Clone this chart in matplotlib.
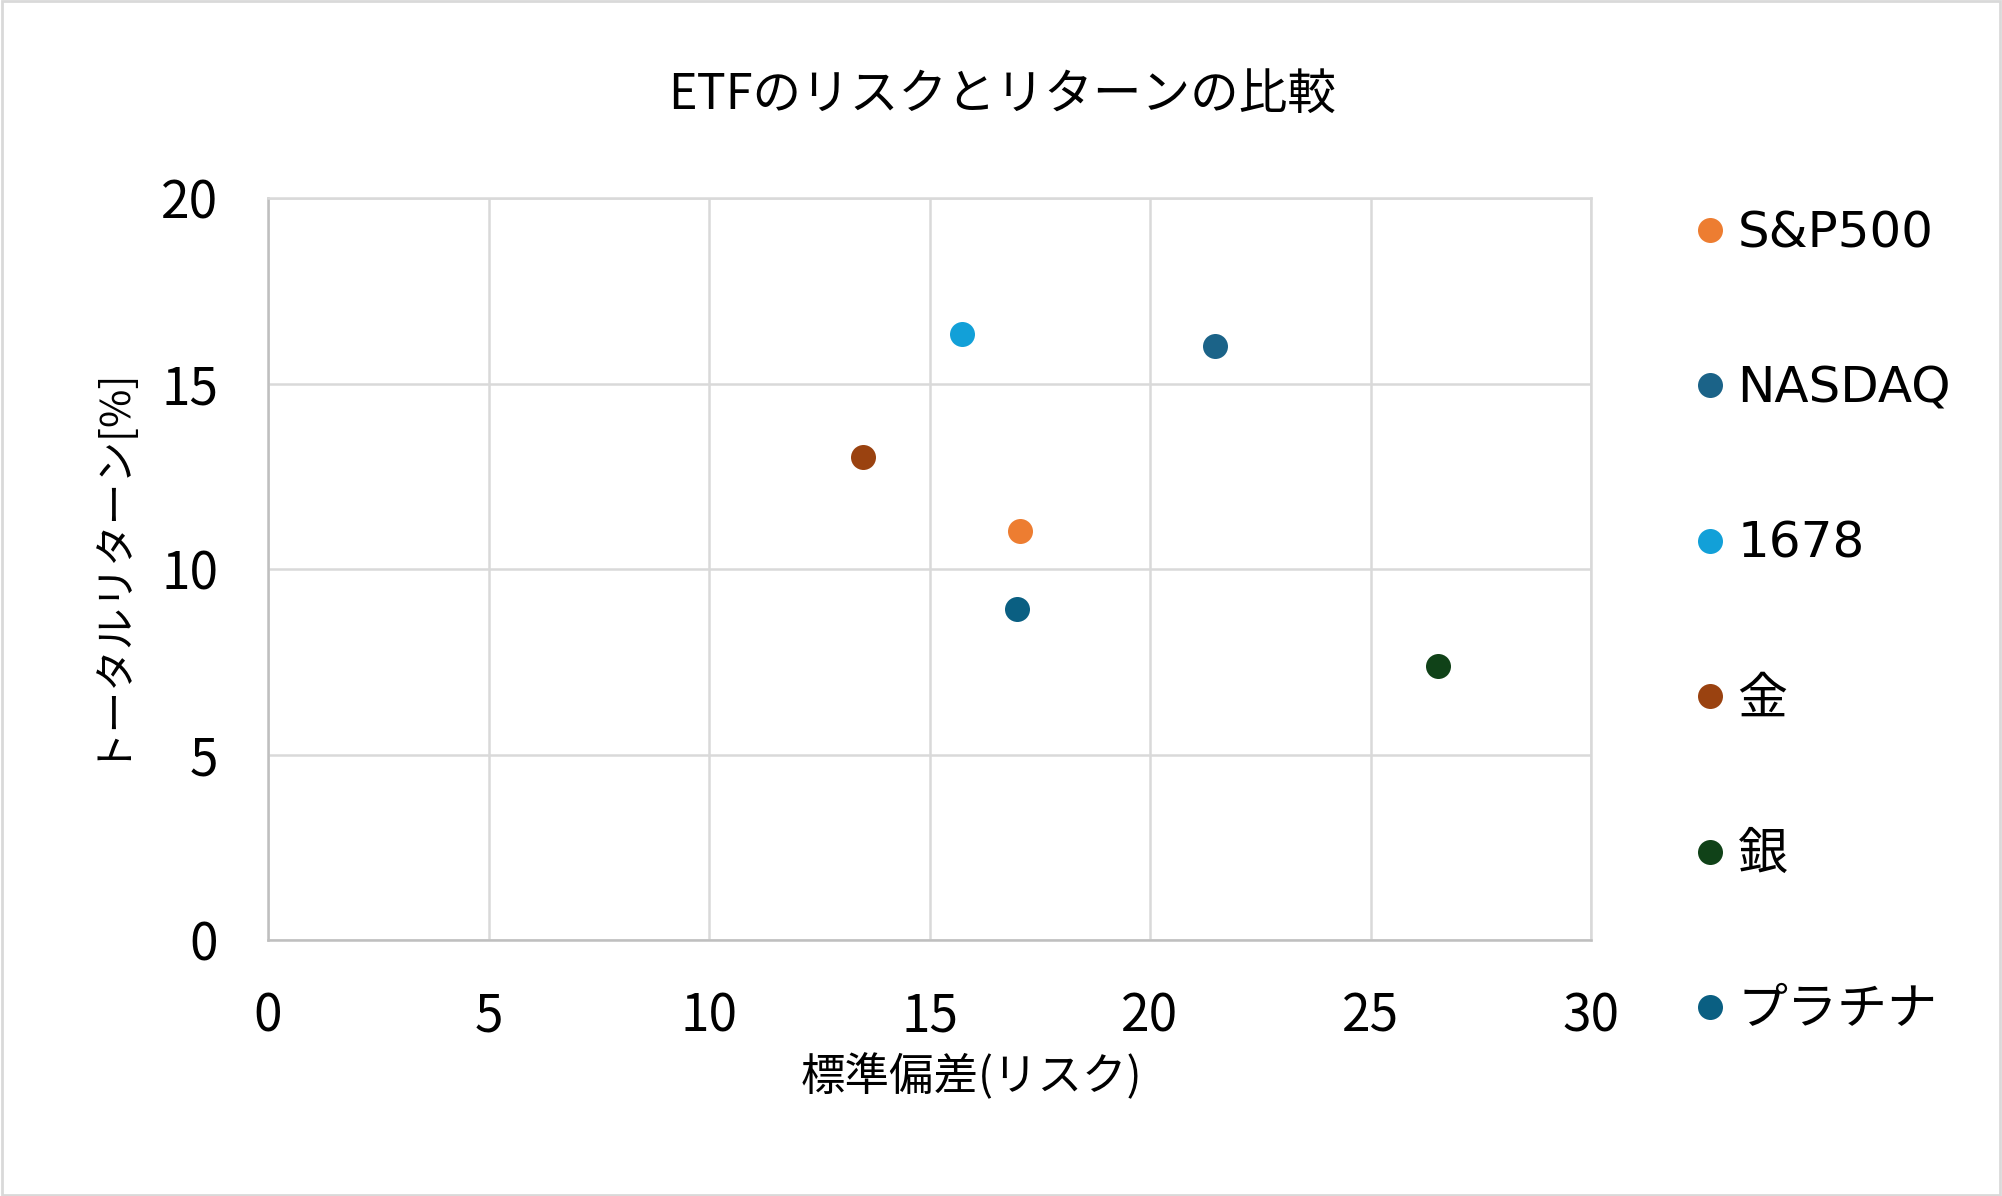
import matplotlib
matplotlib.use("Agg")
import matplotlib.pyplot as plt
from matplotlib.patches import Rectangle

plt.rcParams['font.family'] = ['Noto Sans CJK JP', 'DejaVu Sans']

# data
names = ["S&P500", "NASDAQ", "1678", "金", "銀", "プラチナ"]
risk = [17.06, 21.48, 15.73, 13.5, 26.52, 16.99]
ret = [11.02, 16.02, 16.34, 13.01, 7.38, 8.92]
colors = ["#ED7D31", "#1B6388", "#12A0D8", "#9A4210", "#104218", "#0A5F82"]

xticks = [0, 5, 10, 15, 20, 25, 30]
yticks = [0, 5, 10, 15, 20]

W, H = 2002, 1196
fig = plt.figure(figsize=(W / 100, H / 100), dpi=100)
fig.patch.set_facecolor("white")

# plot area in pixels
left, right, top, bottom = 268, 1591, 198, 940
ax = fig.add_axes([left / W, 1 - bottom / H, (right - left) / W, (bottom - top) / H])

for n, x, y, c in zip(names, risk, ret, colors):
    ax.plot([x], [y], "o", color=c, markersize=18, markeredgewidth=0, label=n, zorder=3)

ax.set_xlim(0, 30)
ax.set_ylim(0, 20)
ax.set_xticks(xticks)
ax.set_yticks(yticks)
ax.grid(True, color="#D9D9D9", linewidth=1.8, zorder=0)
ax.tick_params(length=0, labelsize=37, colors="black")
ax.tick_params(axis="x", pad=36)
ax.tick_params(axis="y", pad=36)

for s in ["top", "right"]:
    ax.spines[s].set_color("#D9D9D9")
    ax.spines[s].set_linewidth(1.8)
for s in ["left", "bottom"]:
    ax.spines[s].set_color("#BFBFBF")
    ax.spines[s].set_linewidth(1.8)

fig.text(1002 / W, 1 - 95 / H, "ETFのリスクとリターンの比較", fontsize=35,
         ha="center", va="center")
fig.text(971 / W, 1 - 1077 / H, "標準偏差(リスク)", fontsize=32,
         ha="center", va="center")
fig.text(105 / W, 1 - 560 / H, "トータルリターン[%]", fontsize=30,
         ha="center", va="center", rotation=90)

leg = fig.legend(loc="upper left", bbox_to_anchor=(1660 / W, 1 - 184 / H),
                 frameon=False, handletextpad=0.05,
                 labelspacing=2.15, handlelength=1.0, borderpad=0,
                 prop={"family": ["DejaVu Sans", "Noto Sans CJK JP"], "size": 36})

# light grey border round the figure
fig.patches.append(Rectangle((0.001, 0.001), 0.998, 0.998, transform=fig.transFigure,
                             fill=False, edgecolor="#D9D9D9", linewidth=2))

fig.savefig("out.png", dpi=100)
